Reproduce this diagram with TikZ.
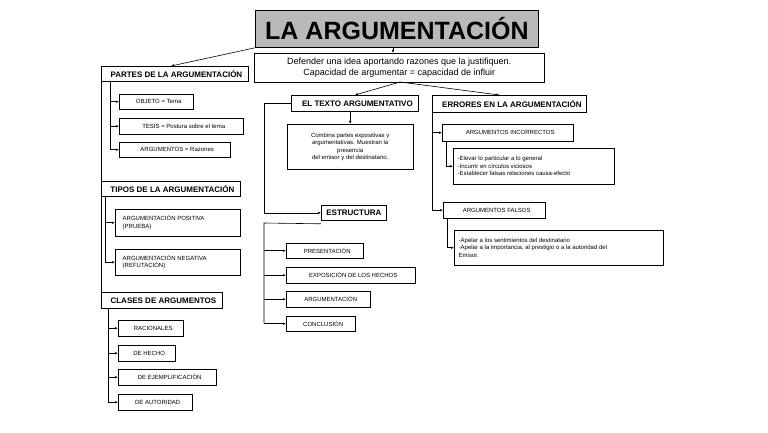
\documentclass[tikz,border=0pt]{standalone}
\usepackage{fontspec}
\setmainfont{Liberation Sans}
\usetikzlibrary{arrows.meta}
\begin{document}
\begin{tikzpicture}[x=1pt,y=-1pt,
 hd/.style={draw,thick,anchor=north west,inner sep=0pt,font=\fontsize{8}{9}\selectfont\bfseries},
 it/.style={draw,anchor=north west,inner sep=0pt,align=left,font=\fontsize{6}{7.5}\selectfont},
 ln/.style={line width=0.6pt},
 ar/.style={ln,-{Latex[length=3pt,width=2.5pt]}}]
\useasboundingbox (0,0) rectangle (768,433);
\newcommand{\bx}[6]{\node[#1,minimum width=#4-#2,minimum height=#5-#3,text width=#4-#2-8] (#6) at (#2,#3) {};}
% title
\node[draw,thick,fill=gray!55,anchor=north west,minimum width=283,minimum height=37,inner sep=0pt,font=\fontsize{25}{28}\selectfont\bfseries] (t) at (255,10) {LA ARGUMENTACIÓN};
\node[draw,anchor=north west,minimum width=290,minimum height=29,inner sep=0pt,align=center,font=\fontsize{9}{10.5}\selectfont] (d) at (254,53) {Defender una idea aportando razones que la justifiquen.\\Capacidad de argumentar = capacidad de influir};
% left column
\node[hd,minimum width=147,minimum height=15] (pa) at (101,66) {\hspace*{3pt}PARTES DE LA ARGUMENTACIÓN\hfill};
\node[it,minimum width=74,minimum height=15] (o1) at (119,94) {\hspace*{5pt}OBJETO = Tema};
\node[it,minimum width=124,minimum height=16] (o2) at (119,118) {\hspace*{5pt}TESIS = Postura sobre el tema};
\node[it,minimum width=111,minimum height=15] (o3) at (119,142) {\hspace*{5pt}ARGUMENTOS = Razones};
\node[hd,minimum width=139,minimum height=15] (ti) at (101,181) {\hspace*{3pt}TIPOS DE LA ARGUMENTACIÓN\hfill};
\node[it,minimum width=125,minimum height=27] (p1) at (115,209) {\hspace*{5pt}\parbox{115pt}{ARGUMENTACIÓN POSITIVA\\(PRUEBA)}};
\node[it,minimum width=125,minimum height=26] (p2) at (115,249) {\hspace*{5pt}\parbox{115pt}{ARGUMENTACIÓN NEGATIVA\\(REFUTACIÓN)}};
\node[hd,minimum width=121,minimum height=16] (cl) at (101,292) {\hspace*{3pt}CLASES DE ARGUMENTOS\hfill};
\node[it,minimum width=65,minimum height=16] (c1) at (118,320) {\hspace*{5pt}RACIONALES};
\node[it,minimum width=57,minimum height=16] (c2) at (118,345) {\hspace*{5pt}DE HECHO};
\node[it,minimum width=98,minimum height=16] (c3) at (118,369) {\hspace*{5pt}DE EJEMPLIFICACIÓN};
\node[it,minimum width=74,minimum height=16] (c4) at (118,394) {\hspace*{5pt}DE AUTORIDAD};
% middle
\node[hd,minimum width=127,minimum height=16] (et) at (291,95) {\hspace*{5pt}EL TEXTO ARGUMENTATIVO\hfill};
\node[it,minimum width=126,minimum height=45,align=center] (cb) at (287,124) {Combina partes expositivas y\\argumentativas. Muestran la\\presencia\\del emisor y del destinatario.};
\node[hd,minimum width=65,minimum height=15] (es) at (321,205) {ESTRUCTURA};
\node[it,minimum width=77,minimum height=15] (e1) at (286,243) {\hspace*{5pt}PRESENTACIÓN};
\node[it,minimum width=129,minimum height=16] (e2) at (286,267) {\hspace*{5pt}EXPOSICIÓN DE LOS HECHOS};
\node[it,minimum width=84,minimum height=16] (e3) at (286,291) {\hspace*{5pt}ARGUMENTACIÓN};
\node[it,minimum width=69,minimum height=15] (e4) at (286,316) {\hspace*{5pt}CONCLUSIÓN};
% right
\node[hd,minimum width=154,minimum height=17] (er) at (432,95) {\hspace*{5pt}ERRORES EN LA ARGUMENTACIÓN\hfill};
\node[it,minimum width=131,minimum height=17] (ai) at (442,124) {\hspace*{5pt}ARGUMENTOS INCORRECTOS};
\node[it,minimum width=161,minimum height=36] (ii) at (453,148) {\hspace*{3pt}\parbox{155pt}{-Elevar lo particular a lo general\\-Incurrir en círculos viciosos\\-Establecer falsas relaciones causa-efecto}};
\node[it,minimum width=102,minimum height=16] (af) at (443,202) {\hspace*{5pt}ARGUMENTOS FALSOS};
\node[it,minimum width=209,minimum height=35] (fi) at (454,230) {\hspace*{3pt}\parbox{203pt}{-Apelar a los sentimientos del destinatario\\-Apelar a la importancia, al prestigio o a la autoridad del\\Emisor.}};
% connectors
\draw[ar] (t.south west) -- ([xshift=70pt]pa.north west);
\draw[ar] (393,47) -- (393,53);
\draw[ar] (400,82) -- (et.north);
\draw[ar] (400,82) -- ([xshift=-10pt]er.north);
\draw[ln] (101,81) -- (ti.north west);
\draw[ln] (101,196) -- (cl.north west);
\draw[ln] (110,81) -- (110,150);
\foreach \n in {o1,o2,o3} \draw[ar] (110,0 |- \n.west) -- (\n.west);
\draw[ln] (105,196) -- (105,262);
\foreach \n in {p1,p2} \draw[ar] (105,0 |- \n.west) -- (\n.west);
\draw[ln] (108,308) -- (108,402);
\foreach \n in {c1,c2,c3,c4} \draw[ar] (108,0 |- \n.west) -- (\n.west);
\draw[ar] (cb.north |- et.south) -- (cb.north);
\draw[ar] (et.west) -- (264,0 |- et.west) -- (264,0 |- es.west) -- (es.west);
\draw[ln] (es.south west) ++(0,3) -- (264,223) -- (264,323);
\foreach \n in {e1,e2,e3,e4} \draw[ar] (264,0 |- \n.west) -- (\n.west);
\draw[ar] (432,112) -- (432,0 |- af.west) -- (af.west);
\draw[ar] (432,0 |- ai.west) -- (ai.west);
\draw[ar] (446,141) -- (446,0 |- ii.west) -- (ii.west);
\draw[ar] (447,218) -- (447,0 |- fi.west) -- (fi.west);
\end{tikzpicture}
\end{document}
